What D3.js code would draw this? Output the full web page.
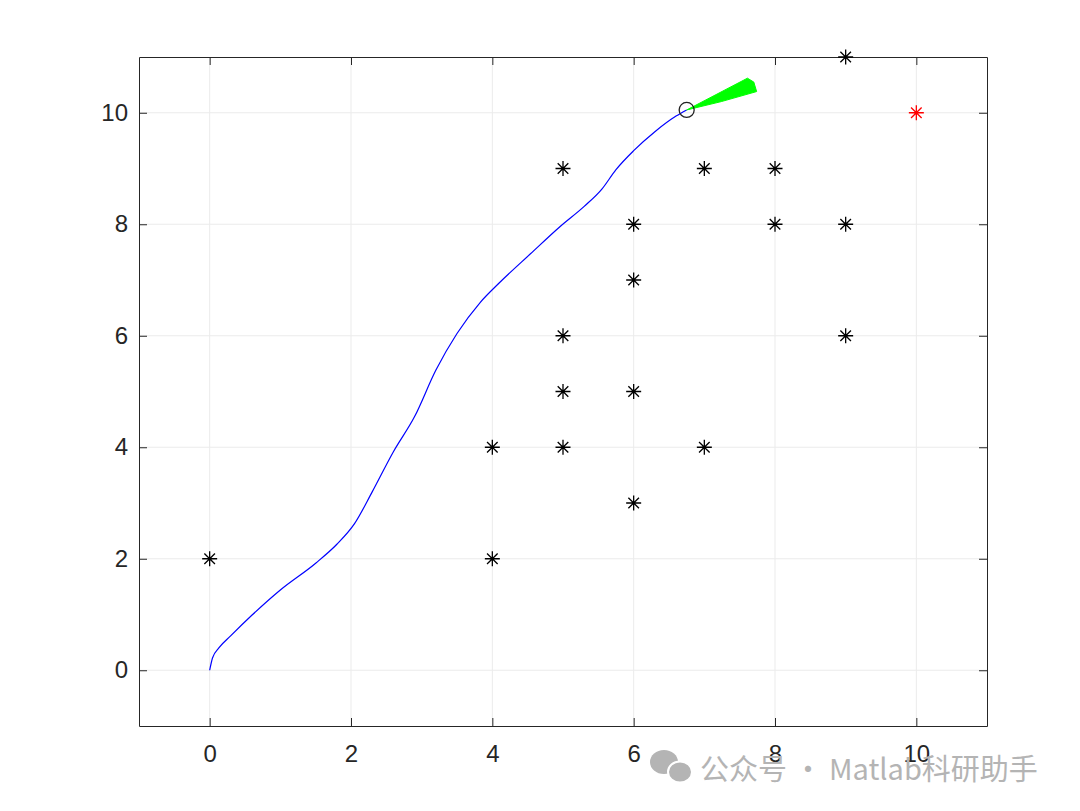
<!DOCTYPE html>
<html>
<head>
<meta charset="utf-8">
<script src="https://cdn.jsdelivr.net/npm/d3@7"></script>
<style>
  body { margin: 0; background: #fff; }
  svg { display: block; }
</style>
</head>
<body>
<script>
'use strict';

// obstacle points (black stars)
const obstX = [0, 4, 4, 5, 5, 5, 5, 6, 6, 6, 6, 7, 7, 8, 8, 9, 9, 9];
const obstY = [2, 2, 4, 4, 5, 6, 9, 3, 5, 7, 8, 4, 9, 8, 9, 6, 8, 11];

// goal (red star)
const goalX = [10];
const goalY = [10];

// robot trajectory (blue line)
const pathX = [0, 0.04, 0.13, 0.3, 0.6, 1.0, 1.5, 1.8, 2.05, 2.3, 2.6, 2.9, 3.2, 3.5, 3.83, 4.1, 4.54, 4.96, 5.3, 5.55, 5.75, 6.0, 6.3, 6.6, 6.75];
const pathY = [0, 0.22, 0.4, 0.62, 0.99, 1.44, 1.92, 2.26, 2.63, 3.2, 3.92, 4.55, 5.38, 6.04, 6.6, 6.95, 7.47, 7.96, 8.32, 8.63, 8.98, 9.32, 9.66, 9.94, 10.05];

// robot position (circle) and heading wedge (green)
const robotX = 6.75, robotY = 10.05;
const wedgeX = [6.75, 7.61, 7.7, 7.74, 7.24];
const wedgeY = [10.05, 10.62, 10.55, 10.38, 10.2];

const ticks = [0, 2, 4, 6, 8, 10];

const W = 1080, H = 811;
const svg = d3.select('body').append('svg')
    .attr('width', W)
    .attr('height', H);

const x = d3.scaleLinear().domain([-1, 11]).range([139, 987]);
const y = d3.scaleLinear().domain([-1, 11]).range([726, 57]);

// grid
const grid = svg.append('g');
grid.selectAll('.gx').data(ticks).enter().append('line')
    .attr('x1', d => x(d)).attr('x2', d => x(d))
    .attr('y1', y(-1)).attr('y2', y(11))
    .attr('stroke', '#ebebeb').attr('stroke-width', 1);
grid.selectAll('.gy').data(ticks).enter().append('line')
    .attr('y1', d => y(d)).attr('y2', d => y(d))
    .attr('x1', x(-1)).attr('x2', x(11))
    .attr('stroke', '#ebebeb').attr('stroke-width', 1);

// axes (MATLAB style: ticks inside, box on)
const axColor = '#262626';
const tickLen = 8;
const font = 'Liberation Sans, Arial, Helvetica, sans-serif';

svg.append('g')
    .attr('transform', 'translate(0,' + y(-1) + ')')
    .call(d3.axisBottom(x).tickValues(ticks).tickSizeInner(-tickLen).tickSizeOuter(0).tickPadding(19))
    .call(g => g.selectAll('text').attr('font-size', 24).attr('font-family', font).attr('fill', axColor))
    .call(g => g.selectAll('line, path').attr('stroke', axColor));

svg.append('g')
    .attr('transform', 'translate(' + x(-1) + ',0)')
    .call(d3.axisLeft(y).tickValues(ticks).tickSizeInner(-tickLen).tickSizeOuter(0).tickPadding(11))
    .call(g => g.selectAll('text').attr('font-size', 24).attr('font-family', font).attr('fill', axColor))
    .call(g => g.selectAll('line, path').attr('stroke', axColor));

svg.append('g')
    .attr('transform', 'translate(0,' + y(11) + ')')
    .call(d3.axisTop(x).tickValues(ticks).tickSizeInner(-tickLen).tickSizeOuter(0).tickFormat(''))
    .call(g => g.selectAll('line, path').attr('stroke', axColor));

svg.append('g')
    .attr('transform', 'translate(' + x(11) + ',0)')
    .call(d3.axisRight(y).tickValues(ticks).tickSizeInner(-tickLen).tickSizeOuter(0).tickFormat(''))
    .call(g => g.selectAll('line, path').attr('stroke', axColor));

// star marker path
function starPath(r) {
    const d = r * Math.SQRT1_2;
    return 'M' + (-r) + ',0L' + r + ',0M0,' + (-r) + 'L0,' + r +
        'M' + (-d) + ',' + (-d) + 'L' + d + ',' + d +
        'M' + (-d) + ',' + d + 'L' + d + ',' + (-d);
}

const obstacles = obstX.map((v, i) => ({ x: v, y: obstY[i] }));
svg.selectAll('.obst').data(obstacles).enter().append('path')
    .attr('transform', d => 'translate(' + x(d.x) + ',' + y(d.y) + ')')
    .attr('d', starPath(7.5))
    .attr('stroke', '#000').attr('stroke-width', 1.3).attr('fill', 'none');

const goal = goalX.map((v, i) => ({ x: v, y: goalY[i] }));
svg.selectAll('.goal').data(goal).enter().append('path')
    .attr('transform', d => 'translate(' + x(d.x) + ',' + y(d.y) + ')')
    .attr('d', starPath(7.5))
    .attr('stroke', '#ff0000').attr('stroke-width', 1.3).attr('fill', 'none');

// trajectory
const pathData = pathX.map((v, i) => [v, pathY[i]]);
svg.append('path')
    .datum(pathData)
    .attr('fill', 'none')
    .attr('stroke', '#0000ff')
    .attr('stroke-width', 1.2)
    .attr('d', d3.line().x(d => x(d[0])).y(d => y(d[1])).curve(d3.curveMonotoneX));

// heading wedge
const wedgeData = wedgeX.map((v, i) => [v, wedgeY[i]]);
svg.append('path')
    .datum(wedgeData)
    .attr('fill', '#00ff00')
    .attr('stroke', '#00ff00')
    .attr('stroke-width', 1)
    .attr('d', d3.line().x(d => x(d[0])).y(d => y(d[1])).curve(d3.curveLinearClosed));

// robot circle
svg.append('circle')
    .attr('cx', x(robotX)).attr('cy', y(robotY))
    .attr('r', 7.5)
    .attr('fill', 'none')
    .attr('stroke', '#222')
    .attr('stroke-width', 1.3);

// watermark
const wm = svg.append('g').attr('fill', '#b4b4b4');
wm.append('ellipse').attr('cx', 664).attr('cy', 762).attr('rx', 14).attr('ry', 12);
wm.append('ellipse').attr('cx', 680).attr('cy', 772).attr('rx', 12).attr('ry', 10.5).attr('stroke', '#fff').attr('stroke-width', 2);
wm.append('text')
    .attr('x', 700).attr('y', 780)
    .attr('font-size', 29)
    .attr('font-family', 'Noto Sans CJK SC, Noto Sans, sans-serif')
    .text('公众号 · Matlab科研助手');
</script>
</body>
</html>
